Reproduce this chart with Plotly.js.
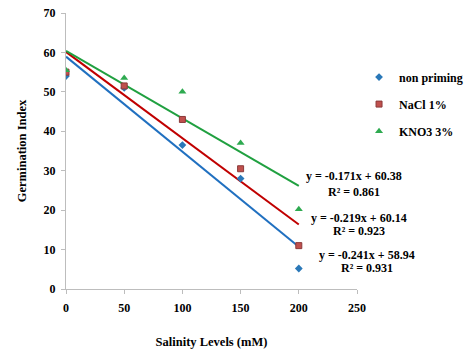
<!DOCTYPE html>
<html><head><meta charset="utf-8">
<script src="https://cdn.plot.ly/plotly-3.0.1.min.js"></script>
<style>html,body{margin:0;padding:0;background:#fff}</style>
</head><body>
<div id="chart" style="width:474px;height:353px"></div>
<script>
var salinity = [0, 50, 100, 150, 200];
var nonPriming = [54, 51, 36.5, 28, 5.2];
var nacl = [55, 51.5, 43, 30.5, 11];
var kno3 = [55.5, 53.5, 50, 37, 20.2];
var seriesNames = ['non priming', 'NaCl 1%', 'KNO3 3%'];
var slopes = [-0.241, -0.219, -0.171];
var intercepts = [58.94, 60.14, 60.38];
var r2 = ['0.931', '0.923', '0.861'];
var fitX = [0, 200];

var markerColors = ['#2a78b8', '#c0504d', '#2eaa50'];
var lineColors = ['#2070c0', '#c00000', '#20a040'];
var symbols = ['diamond', 'square', 'triangle-up'];
var sizes = [6, 6, 7];
var ys = [nonPriming, nacl, kno3];
var legendIds = ['legend', 'legend2', 'legend3'];
var font = "'Liberation Serif', 'Times New Roman', serif";

var traces = [];
for (var i = 0; i < 3; i++) {
  traces.push({
    x: fitX, y: fitX.map(function(x){return slopes[i]*x + intercepts[i];}),
    mode: 'lines', line: {color: lineColors[i], width: 2}, showlegend: false, hoverinfo: 'skip'
  });
}
for (var i = 0; i < 3; i++) {
  traces.push({
    x: salinity, y: ys[i], name: seriesNames[i], mode: 'markers', legend: legendIds[i],
    marker: {symbol: symbols[i], size: sizes[i], color: markerColors[i],
             line: {color: i===1 ? '#8b3a3a' : markerColors[i], width: i===1 ? 1 : 0}}
  });
}

function fmtEq(i){ return 'y = ' + slopes[i].toFixed(3) + 'x + ' + intercepts[i].toFixed(2); }
// paper positions [x, eqY, r2Y] for non priming, NaCl, KNO3
var eqPos = [[1.034, 0.123, 0.076], [1.007, 0.257, 0.210], [0.990, 0.409, 0.351]];
var ann = [];
for (var i = 0; i < 3; i++) {
  ann.push({xref: 'paper', yref: 'paper', x: eqPos[i][0], y: eqPos[i][1], text: '<b>' + fmtEq(i) + '</b>', showarrow: false,
    xanchor: 'center', yanchor: 'middle', font: {family: font, size: 12, color: '#000'}});
  ann.push({xref: 'paper', yref: 'paper', x: eqPos[i][0], y: eqPos[i][2], text: '<b>R² = ' + r2[i] + '</b>', showarrow: false,
    xanchor: 'center', yanchor: 'middle', font: {family: font, size: 12, color: '#000'}});
}

var legendYs = [0.768, 0.670, 0.572];
function legendCfg(y){
  return {x: 1.007, y: y, xanchor: 'left', yanchor: 'middle', bgcolor: 'rgba(0,0,0,0)',
    font: {family: font, size: 12, color: '#000', weight: 'bold'}, itemwidth: 30};
}

var layout = {
  width: 474, height: 353,
  margin: {l: 66, r: 117, t: 13, b: 64, autoexpand: false},
  paper_bgcolor: '#fff', plot_bgcolor: '#fff',
  font: {family: font, color: '#000'},
  xaxis: {range: [0, 250], tickvals: [0,50,100,150,200,250], showgrid: false, zeroline: false,
    showline: true, linecolor: '#bdbdbd', linewidth: 1, ticks: 'outside', ticklen: 4, tickcolor: '#bdbdbd',
    ticklabelstandoff: 4,
    tickfont: {family: font, size: 12, color: '#000', weight: 'bold'},
    title: {text: '<b>Salinity Levels (mM)</b>', font: {family: font, size: 12.5, color: '#000'}, standoff: 22}},
  yaxis: {range: [0, 70], tickvals: [0,10,20,30,40,50,60,70], showgrid: false, zeroline: false,
    showline: true, linecolor: '#bdbdbd', linewidth: 1, ticks: 'outside', ticklen: 4, tickcolor: '#bdbdbd',
    ticklabelstandoff: 3,
    tickfont: {family: font, size: 12, color: '#000', weight: 'bold'},
    title: {text: '<b>Germination Index</b>', font: {family: font, size: 12.5, color: '#000'}, standoff: 14}},
  legend: legendCfg(legendYs[0]),
  legend2: legendCfg(legendYs[1]),
  legend3: legendCfg(legendYs[2]),
  annotations: ann,
  showlegend: true
};
Plotly.newPlot('chart', traces, layout, {displayModeBar: false, staticPlot: true});
</script>
</body></html>
